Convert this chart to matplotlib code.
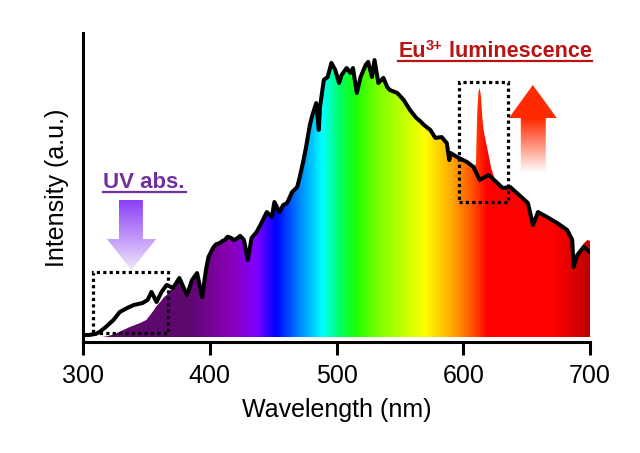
import numpy as np
import matplotlib
matplotlib.use("Agg")
import matplotlib.pyplot as plt
from matplotlib.colors import LinearSegmentedColormap, to_rgb
from matplotlib.patches import Polygon, Rectangle
from matplotlib.lines import Line2D

plt.rcParams['font.family'] = ['Liberation Sans', 'DejaVu Sans']

# ---------------- data ----------------
# Solar spectrum (black line), wavelength in nm, intensity in a.u.
wl = [300, 305, 310, 313, 318, 324, 329, 335, 340, 347, 351, 354, 358, 362, 366, 371,
      376, 382, 386, 390, 394, 397, 399, 403, 405, 408, 410, 412, 414, 417, 419, 422,
      424, 427, 430, 433, 437, 440, 445, 449, 451, 455, 458, 461, 465, 469, 471, 474,
      476, 479, 481, 484, 486, 487, 490, 493, 496, 499, 502, 504, 508, 511, 513, 516,
      519, 523, 525, 528, 530, 533, 537, 540, 542, 548, 553, 558, 563, 566, 569, 574,
      578, 583, 587, 589, 590, 595, 603, 608, 613, 620, 626, 631, 637, 645, 651, 655,
      659, 666, 674, 682, 686, 687, 690, 695, 700]
solar = [0.012, 0.012, 0.018, 0.029, 0.059, 0.100, 0.147, 0.171, 0.188, 0.200, 0.218, 0.265,
         0.206, 0.265, 0.306, 0.288, 0.347, 0.247, 0.335, 0.376, 0.235, 0.394, 0.471, 0.529,
         0.545, 0.553, 0.565, 0.571, 0.590, 0.582, 0.570, 0.582, 0.595, 0.571, 0.453, 0.582,
         0.618, 0.659, 0.735, 0.706, 0.794, 0.735, 0.776, 0.788, 0.853, 0.882, 0.941, 1.041,
         1.118, 1.247, 1.306, 1.376, 1.218, 1.353, 1.512, 1.529, 1.612, 1.571, 1.494, 1.541,
         1.582, 1.553, 1.582, 1.435, 1.529, 1.600, 1.618, 1.529, 1.629, 1.494, 1.524, 1.471,
         1.453, 1.435, 1.394, 1.335, 1.288, 1.270, 1.247, 1.218, 1.171, 1.176, 1.141, 1.041,
         1.082, 1.059, 1.029, 1.000, 0.924, 0.953, 0.912, 0.876, 0.882, 0.829, 0.788, 0.659,
         0.735, 0.706, 0.671, 0.629, 0.571, 0.412, 0.482, 0.529, 0.500]

# Filled (converted) spectrum: differs from solar in the UV (absorbed),
# around 613 nm (Eu3+ emission) and at the red tail
fill_uv_wl = [300, 315, 320, 325, 330, 337, 345, 350, 353, 356, 358, 361, 364, 366, 369, 371]
fill_uv = [0.0, 0.0, 0.006, 0.018, 0.035, 0.059, 0.082, 0.100, 0.129, 0.159, 0.182,
           0.206, 0.235, 0.247, 0.276, 0.288]
fill_eu_wl = [608, 610, 611, 612, 613, 614, 615, 616, 618, 620, 622, 624]
fill_eu = [1.000, 1.018, 1.318, 1.441, 1.465, 1.412, 1.294, 1.218, 1.141, 1.071, 0.994, 0.947]
fill_tail_wl = [690, 695, 698, 700]
fill_tail = [0.49, 0.55, 0.571, 0.565]

x_ticks = [300, 400, 500, 600, 700]

# spectral colour stops (nm, colour)
spec_nm = [300, 385, 415, 437, 452, 470, 489, 503, 516, 534, 555, 570, 592, 608, 619, 671, 700]
spec_col = ['#5a0a6a', '#5e0870', '#8a00b4', '#8000ff', '#0000ff', '#0080ff', '#00ffff',
            '#00ff60', '#20ff00', '#80ff00', '#c8ff00', '#ffff00', '#ffa500', '#ff5000',
            '#ff0000', '#ff0000', '#c00000']

# ---------------- figure ----------------
fig = plt.figure(figsize=(6.4, 4.53), dpi=100)
ax = fig.add_axes([83 / 640, 1 - 342 / 453, 507 / 640, 309 / 453])
XL = (300, 700)
YL = (-0.0294, 1.788)

# build fill polygon from the data sections
pts = list(zip(fill_uv_wl, fill_uv))
pts += [(w, v) for w, v in zip(wl, solar) if 371 < w < 608 or 624 < w < 690]
pts += list(zip(fill_eu_wl, fill_eu)) + list(zip(fill_tail_wl, fill_tail))
pts.sort(key=lambda p: p[0])
verts = [(pts[0][0], 0)] + pts + [(pts[-1][0], 0)]
poly = Polygon(verts, closed=True, facecolor='none', edgecolor='none')
ax.add_patch(poly)

pos = [(n - 300) / 400 for n in spec_nm]
cmap = LinearSegmentedColormap.from_list('spec', list(zip(pos, spec_col)), N=512)
grad = np.linspace(0, 1, 800).reshape(1, -1)
im = ax.imshow(grad, cmap=cmap, extent=[300, 700, 0, 1.8], aspect='auto',
               origin='lower', interpolation='bilinear', zorder=1)
im.set_clip_path(poly)

ax.plot(wl, solar, color='black', lw=2.9, solid_joinstyle='round', zorder=3)

# dotted boxes
ax.add_patch(Rectangle((308, 0.024), 59, 0.356, fill=False, ec='black', lw=2.3,
                       ls=(0, (1, 1)), zorder=4))
ax.add_patch(Rectangle((596.5, 0.794), 38.5, 0.706, fill=False, ec='black', lw=2.3,
                       ls=(0, (1, 1)), zorder=4))


def grad_arrow(shaft_x, head_x, y_tail, y_base, y_tip, c_start, c_end, fade):
    xs0, xs1 = shaft_x
    xh0, xh1 = head_x
    xt = (xh0 + xh1) / 2
    pverts = [(xs0, y_tail), (xs1, y_tail), (xs1, y_base), (xh1, y_base), (xt, y_tip),
              (xh0, y_base), (xs0, y_base)]
    p = Polygon(pverts, closed=True, fc='none', ec='none')
    ax.add_patch(p)
    ylo, yhi = min(y_tail, y_tip), max(y_tail, y_tip)
    t = np.linspace(0, 1, 200)  # 0 at tail, 1 at tip
    c0 = np.array(to_rgb(c_start))
    c1 = np.array(to_rgb(c_end))
    w = np.clip(t / fade, 0, 1)[:, None]
    cols = c0 * (1 - w) + c1 * w
    img = cols[:, None, :]
    if y_tip < y_tail:
        img = img[::-1]
    im2 = ax.imshow(img, extent=[xh0, xh1, ylo, yhi], aspect='auto', origin='lower',
                    interpolation='bilinear', zorder=2)
    im2.set_clip_path(p)


# purple down arrow (UV)
grad_arrow((328.4, 347.3), (318.9, 357.6), 0.806, 0.576, 0.394, '#8a3cf5', '#efe6fc', 1.0)
# red up arrow (Eu)
grad_arrow((645.4, 665.1), (636.0, 673.8), 0.965, 1.288, 1.482, '#ffffff', '#ff2a00', 0.62)

ax.set_xlim(*XL)
ax.set_ylim(*YL)

ax.set_xticks(x_ticks)
ax.set_xticklabels([str(v) for v in x_ticks])
ax.set_yticks([])
ax.tick_params(axis='x', direction='out', length=9, width=2.2, labelsize=18, pad=7)
ax.set_xlabel('Wavelength (nm)', fontsize=18, labelpad=7)
ax.set_ylabel('Intensity (a.u.)', fontsize=18, labelpad=10)
for s in ['top', 'right']:
    ax.spines[s].set_visible(False)
for s in ['left', 'bottom']:
    ax.spines[s].set_linewidth(2.2)

# annotation texts (figure pixel positions), underlined
W, H = fig.bbox.width, fig.bbox.height
fig.canvas.draw()
r = fig.canvas.get_renderer()

uv_col = '#7030a0'
eu_col = '#b81414'
t_uv = fig.text(144 / W, (H - 188) / H, 'UV abs.', color=uv_col, fontsize=16,
                fontweight='bold', ha='center', va='baseline')
parts = [('Eu', 15.5, 0), ('3+', 10.5, 7), (' luminescence', 15.5, 0)]
objs = []
for s, fs, dy in parts:
    objs.append((fig.text(0, 0, s, color=eu_col, fontsize=fs, fontweight='bold',
                          ha='left', va='baseline'), dy))
widths = [o.get_window_extent(r).width for o, _ in objs]
x = 495 - sum(widths) / 2
base = H - 57
for (o, dy), wdt in zip(objs, widths):
    o.set_position((x / W, (base + dy) / H))
    x += wdt

fig.add_artist(Line2D([103 / W, 186 / W], [(H - 192) / H] * 2, transform=fig.transFigure,
                      color=uv_col, lw=1.6))
x0 = 495 - sum(widths) / 2
fig.add_artist(Line2D([x0 / W, (x0 + sum(widths)) / W], [(H - 60.5) / H] * 2,
                      transform=fig.transFigure, color=eu_col, lw=1.6))

fig.savefig('out.png', dpi=100)
